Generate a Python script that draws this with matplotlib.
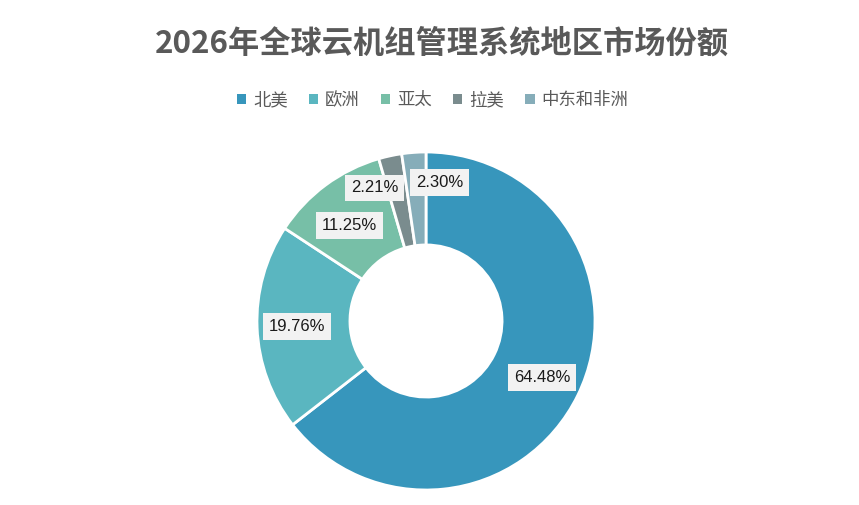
import numpy as np
import matplotlib.pyplot as plt
from matplotlib.patches import Patch

plt.rcParams['font.family'] = ['Noto Sans CJK SC', 'DejaVu Sans']

regions = ['北美', '欧洲', '亚太', '拉美', '中东和非洲']
shares = [64.48, 19.76, 11.25, 2.21, 2.30]
colors = ['#3796BC', '#5AB6C0', '#77BFA7', '#7A8C8E', '#86ADB9']
# small nudges (px) Excel applied to crowded labels
nudge = [(0, 0), (0, 0), (0, -8), (-24, 7), (23, 10)]

fig = plt.figure(figsize=(8.59, 5.05), dpi=100)
ax = fig.add_axes([0, 0, 1, 1])

cx, cy, R = 426, 505 - 321, 169
wedges, _ = ax.pie(shares, colors=colors, startangle=90, counterclock=False,
                   center=(cx, cy), radius=R,
                   wedgeprops=dict(width=R * 0.55, edgecolor='white', linewidth=2))
ax.set_xlim(0, 859)
ax.set_ylim(0, 505)
ax.set_aspect('equal')
ax.axis('off')

total = sum(shares)
start = 90.0
for v, (dx, dy) in zip(shares, nudge):
    ang = start - v / total * 360 / 2
    start -= v / total * 360
    r = 129
    x = cx + r * np.cos(np.radians(ang)) + dx
    y = cy + r * np.sin(np.radians(ang)) + dy
    ax.text(x, y, '{:.2f}%'.format(v), ha='center', va='center', fontsize=12,
            family=['Liberation Sans', 'DejaVu Sans'], color='#1a1a1a',
            bbox=dict(boxstyle='square,pad=0.35', facecolor='#F2F2F2', edgecolor='none'))

ax.text(442, 505 - 44, '2026年全球云机组管理系统地区市场份额',
        ha='center', va='center', fontsize=22.5, fontweight='bold', color='#595959')

handles = [Patch(facecolor=c, edgecolor='none') for c in colors]
fig.legend(handles, regions, loc='center', bbox_to_anchor=(0.5 + 3 / 859, (505 - 100) / 505), ncol=5,
           frameon=False, fontsize=12.5, handlelength=0.55, handleheight=0.55,
           handletextpad=0.4, columnspacing=1.2, labelcolor='#595959')

fig.savefig('out.png', dpi=100)
